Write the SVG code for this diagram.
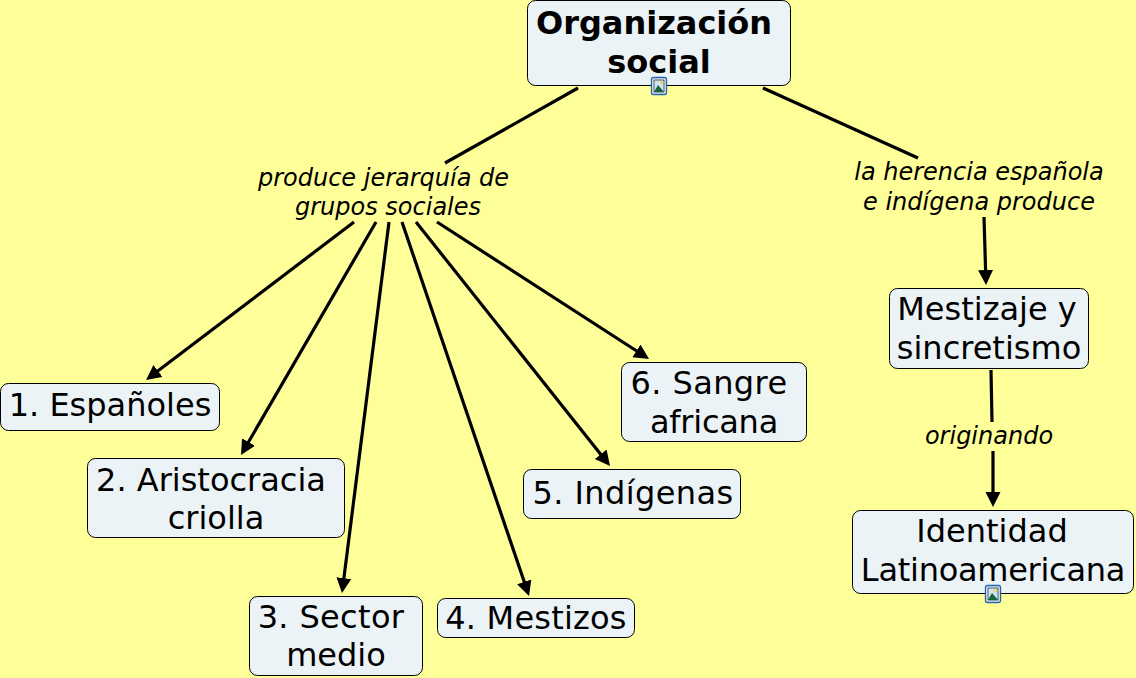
<svg xmlns="http://www.w3.org/2000/svg" width="1136" height="678" viewBox="0 0 1136 678">
<style>
.n{fill:#ecf3f6;stroke:#000;stroke-width:1}
text{font-family:"DejaVu Sans",Verdana,sans-serif;fill:#000}
.t{font-size:32px;text-anchor:middle}
.b{font-size:32px;font-weight:bold;text-anchor:middle}
.l{font-size:24px;font-style:italic;text-anchor:middle}
.c{fill:none;stroke:#000;stroke-width:3.200}
</style>
<defs>
<marker id="a" markerUnits="userSpaceOnUse" markerWidth="18" markerHeight="18" refX="4" refY="8" orient="auto"><path d="M0 .5L15 8L0 15.500Z" fill="#000"/></marker>
<g id="ic"><rect x="-7.500" y="-8.500" width="15" height="17" rx="2" fill="#dfeaf5" stroke="#1f66ad" stroke-width="1.300"/><rect x="-5" y="-6" width="10" height="12" fill="#cfe3f3" stroke="#222" stroke-width=".7"/><path d="M-5 6L-1 -1L5 6Z" fill="#14663a"/><circle cx="2.500" cy="-3.500" r="1.800" fill="#ecd46a"/></g>
</defs>
<rect width="1136" height="678" fill="#ffff99"/>
<g id="connectors">
<path class="c" d="M578 88L445 163"/>
<path class="c" d="M763 88L918 158"/>
<path class="c" marker-end="url(#a)" d="M354 222L154.800 373.300"/>
<path class="c" marker-end="url(#a)" d="M376 222L246.500 445.500"/>
<path class="c" marker-end="url(#a)" d="M389 222L343.400 582.100"/>
<path class="c" marker-end="url(#a)" d="M402 222L525.500 585.600"/>
<path class="c" marker-end="url(#a)" d="M416 222L603.200 457.400"/>
<path class="c" marker-end="url(#a)" d="M437 222L639.800 353"/>
<path class="c" marker-end="url(#a)" d="M984 217L985.700 274"/>
<path class="c" d="M991 370L992 422"/>
<path class="c" marker-end="url(#a)" d="M993 451L993 496"/>
</g>
<g id="n-org"><rect class="n" x="527.500" y="0.500" width="263" height="85" rx="8"/><text class="b" x="654" y="34">Organización</text><text class="b" x="659" y="73">social</text><use href="#ic" x="659" y="86"/></g>
<g id="l-jer"><text class="l" x="383.500" y="185.500">produce jerarquía de</text><text class="l" x="388" y="214.500">grupos sociales</text></g>
<g id="l-her"><text class="l" x="979" y="179.500">la herencia española</text><text class="l" x="979" y="209.500">e indígena produce</text></g>
<g id="l-ori"><text class="l" x="989" y="443.500">originando</text></g>
<g id="n-1"><rect class="n" x="0.500" y="383.500" width="219" height="47" rx="8"/><text class="t" x="110" y="416">1. Españoles</text></g>
<g id="n-2"><rect class="n" x="87.500" y="458.500" width="257" height="79" rx="8"/><text class="t" x="211" y="491">2. Aristocracia</text><text class="t" x="216" y="529">criolla</text></g>
<g id="n-3"><rect class="n" x="249.500" y="596.500" width="173" height="79" rx="8"/><text class="t" x="331" y="628" letter-spacing=".35">3. Sector</text><text class="t" x="336" y="666">medio</text></g>
<g id="n-4"><rect class="n" x="437.500" y="598.500" width="197" height="39" rx="8"/><text class="t" x="536" y="629" letter-spacing=".2">4. Mestizos</text></g>
<g id="n-5"><rect class="n" x="523.500" y="469.500" width="217" height="49" rx="8"/><text class="t" x="633" y="504" letter-spacing=".4">5. Indígenas</text></g>
<g id="n-6"><rect class="n" x="621.500" y="362.500" width="185" height="79" rx="8"/><text class="t" x="709" y="394" letter-spacing=".4">6. Sangre</text><text class="t" x="714" y="433" letter-spacing="-.25">africana</text></g>
<g id="n-mes"><rect class="n" x="889.500" y="288.500" width="199" height="80" rx="8"/><text class="t" x="987" y="320">Mestizaje y</text><text class="t" x="989" y="359">sincretismo</text></g>
<g id="n-ide"><rect class="n" x="852.500" y="510.500" width="281" height="83" rx="8"/><text class="t" x="992" y="542">Identidad</text><text class="t" x="993" y="581" letter-spacing="-.27">Latinoamericana</text><use href="#ic" x="993" y="594"/></g>
</svg>
